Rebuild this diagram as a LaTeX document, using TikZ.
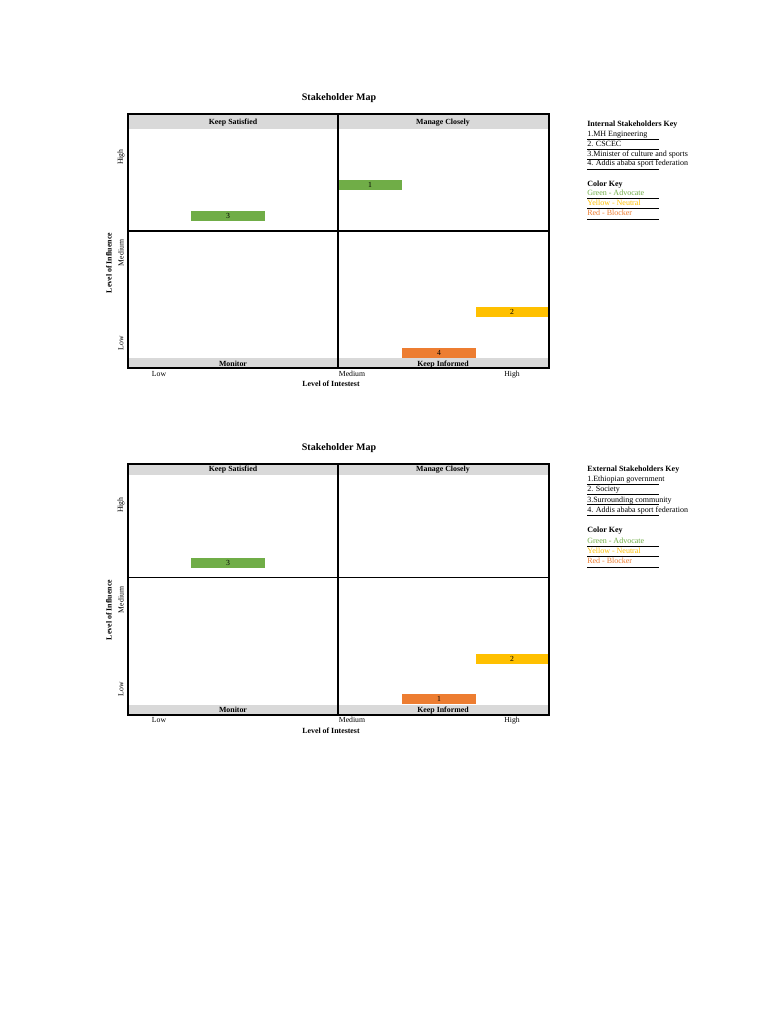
\documentclass[tikz,border=0pt]{standalone}
\usepackage{fontspec}
\setmainfont{Liberation Serif}
\usetikzlibrary{positioning}
\definecolor{bandgray}{HTML}{D9D9D9}
\definecolor{advgreen}{HTML}{70AD47}
\definecolor{neuyellow}{HTML}{FFC000}
\definecolor{blkorange}{HTML}{ED7D31}
\newcommand{\smallfont}{\fontsize{5.8}{6.4}\selectfont}
\newcommand{\keyfont}{\fontsize{6}{6.6}\selectfont}
\tikzset{>=latex}
\tikzstyle{band} = [fill=bandgray, draw=none]
\tikzstyle{frame} = [draw=black, line width=0.9pt]
\tikzstyle{quad} = [inner sep=0pt, anchor=base, font=\fontsize{5.9}{6.4}\selectfont\bfseries]
\tikzstyle{bar} = [rectangle, inner sep=0pt, minimum height=7.5pt, minimum width=55.5pt, font=\smallfont]
\tikzstyle{tick} = [inner sep=0pt, anchor=base, font=\smallfont]
\tikzstyle{ytick} = [inner sep=0pt, rotate=90, font=\smallfont]
\tikzstyle{maptitle} = [inner sep=0pt, anchor=base, font=\fontsize{7.5}{8}\selectfont\bfseries]
\tikzstyle{keytext} = [anchor=base west, inner sep=0pt, font=\keyfont]
\tikzstyle{keyline} = [line width=0.6pt]

\begin{document}
\begin{tikzpicture}[x=0.75pt,y=-0.75pt]
\useasboundingbox[fill=white] (0,0) rectangle (768,1024);

% Internal map
\node[maptitle](t1) at (339,100){Stakeholder Map};
\fill[band] (128,114) rectangle (549,129);
\fill[band] (128,358) rectangle (549,368);
\node[bar,fill=advgreen,minimum width=48pt](i1) at (370,185){1};
\node[bar,fill=advgreen](i3) at (228,216){3};
\node[bar,fill=neuyellow,minimum width=54pt](i2) at (512,312){2};
\node[bar,fill=blkorange](i4) at (439,353){4};
\draw[frame] (128,114) rectangle (549,368);
\draw[frame] (338,114) -- (338,368);
\draw[frame] (128,231) -- (549,231);
\node[quad](ks1) at (233,124){Keep Satisfied};
\node[quad](mc1) at (443,124){Manage Closely};
\node[quad](mo1) at (233,366){Monitor};
\node[quad](ki1) at (443,366){Keep Informed};
\node[tick](xl1) at (159,376){Low};
\node[tick](xm1) at (352,376){Medium};
\node[tick](xh1) at (512,376){High};
\node[quad](xa1) at (331,386.5){Level of Intestest};
\node[ytick](yh1) at (121,157){High};
\node[ytick](ym1) at (121,253){Medium};
\node[ytick](yl1) at (121,343){Low};
\node[quad,anchor=center,rotate=90](ya1) at (109,263){Level of Influence};

% Internal key
\node[keytext,font=\keyfont\bfseries](ik) at (587,126){Internal Stakeholders Key};
\node[keytext](ik1) at (587,136){1.MH Engineering};
\node[keytext](ik2) at (587,146){2. CSCEC};
\node[keytext](ik3) at (587,156){3.Minister of culture and sports};
\node[keytext](ik4) at (587,165.5){4. Addis ababa sport federation};
\foreach \y in {139.5,149,159,169} \draw[keyline] (587,\y) -- (659,\y);
\node[keytext,font=\keyfont\bfseries](ic) at (587,186){Color Key};
\node[keytext,text=advgreen](ic1) at (587,195.5){Green - Advocate};
\node[keytext,text=neuyellow](ic2) at (587,205.5){Yellow - Neutral};
\node[keytext,text=blkorange](ic3) at (587,215.5){Red - Blocker};
\foreach \y in {198.7,208.7,219} \draw[keyline] (587,\y) -- (659,\y);

% External map
\node[maptitle](t2) at (339,450){Stakeholder Map};
\fill[band] (128,464) rectangle (549,474.5);
\fill[band] (128,704.5) rectangle (549,715);
\node[bar,fill=advgreen](e3) at (228,562.7){3};
\node[bar,fill=neuyellow,minimum width=54pt](e2) at (512,658.7){2};
\node[bar,fill=blkorange](e1) at (439,699.2){1};
\draw[frame] (128,464) rectangle (549,715);
\draw[frame] (338,464) -- (338,715);
\draw[frame] (128,577.7) -- (549,577.7);
\node[quad](ks2) at (233,471.3){Keep Satisfied};
\node[quad](mc2) at (443,471.3){Manage Closely};
\node[quad](mo2) at (233,712.3){Monitor};
\node[quad](ki2) at (443,712.3){Keep Informed};
\node[tick](xl2) at (159,722.7){Low};
\node[tick](xm2) at (352,722.7){Medium};
\node[tick](xh2) at (512,722.7){High};
\node[quad](xa2) at (331,733){Level of Intestest};
\node[ytick](yh2) at (121,505){High};
\node[ytick](ym2) at (121,600){Medium};
\node[ytick](yl2) at (121,689){Low};
\node[quad,anchor=center,rotate=90](ya2) at (109,610){Level of Influence};

% External key
\node[keytext,font=\keyfont\bfseries](ek) at (587,471){External Stakeholders Key};
\node[keytext](ek1) at (587,481){1.Ethiopian government};
\node[keytext](ek2) at (587,491.7){2. Society};
\node[keytext](ek3) at (587,502){3.Surrounding community};
\node[keytext](ek4) at (587,512.7){4. Addis ababa sport federation};
\foreach \y in {484,494.3,504.7,515.3} \draw[keyline] (587,\y) -- (659,\y);
\node[keytext,font=\keyfont\bfseries](ec) at (587,532.7){Color Key};
\node[keytext,text=advgreen](ec1) at (587,543){Green - Advocate};
\node[keytext,text=neuyellow](ec2) at (587,553){Yellow - Neutral};
\node[keytext,text=blkorange](ec3) at (587,563.7){Red - Blocker};
\foreach \y in {546,556.7,567.3} \draw[keyline] (587,\y) -- (659,\y);

\end{tikzpicture}
\end{document}
